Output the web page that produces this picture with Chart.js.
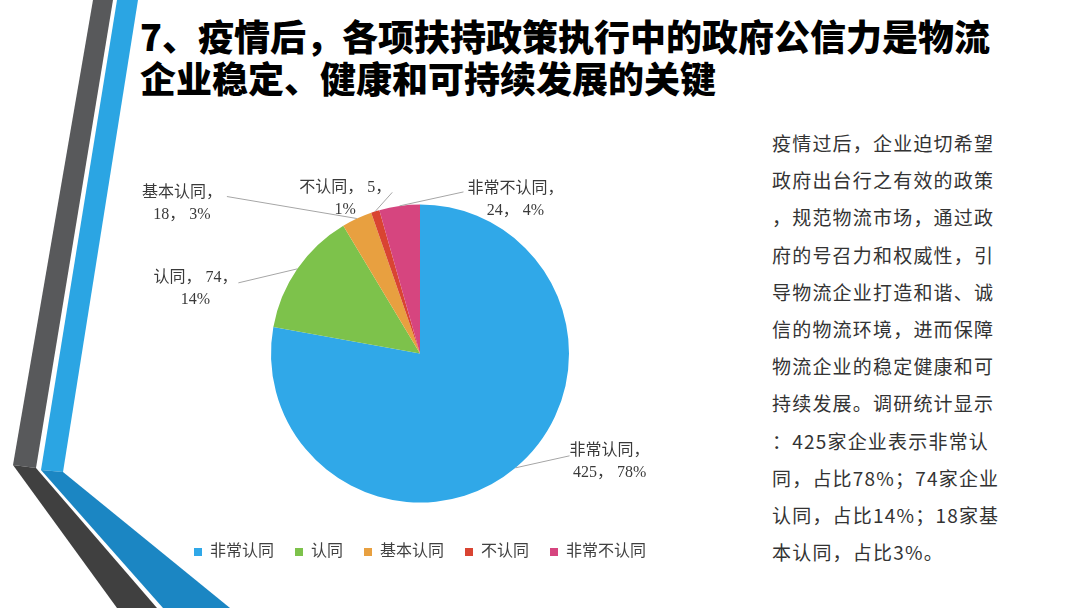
<!DOCTYPE html>
<html lang="zh-CN">
<head>
<meta charset="utf-8">
<script src="https://cdn.jsdelivr.net/npm/chart.js@4.4.1/dist/chart.umd.min.js"></script>
<style>
  html, body { margin: 0; padding: 0; }
  body { width: 1080px; height: 608px; position: relative; overflow: hidden; background: #fff; font-family: "Noto Sans CJK SC", sans-serif; }
  #deco { position: absolute; left: 0; top: 0; }
  .title { position: absolute; left: 140px; font-size: 36px; font-weight: 900; color: #000; line-height: 42px; white-space: nowrap; }
  #chart-box { position: absolute; left: 130px; top: 130px; width: 580px; height: 440px; }
  #note { position: absolute; left: 772px; top: 124px; font-size: 19px; line-height: 37.2px; color: #333; letter-spacing: 1.2px; white-space: nowrap; }
</style>
</head>
<body>
<svg id="deco" width="1080" height="608">
  <polygon points="93,0 113,0 36,468 13,465" fill="#58595b"/>
  <polygon points="117,0 138,0 63,472 41,470" fill="#2ba5e3"/>
  <polygon points="13,465 36,468 157,608 117,608" fill="#404040"/>
  <polygon points="41,470 63,472 230,608 163,608" fill="#1b86c3"/>
</svg>

<div class="title" style="top:14px;">7、疫情后，各项扶持政策执行中的政府公信力是物流</div>
<div class="title" style="top:56px;">企业稳定、健康和可持续发展的关键</div>

<div id="chart-box"><canvas id="pie" width="580" height="440"></canvas></div>

<div id="note"></div>

<script>
const categories = ['非常认同', '认同', '基本认同', '不认同', '非常不认同'];
const counts = [425, 74, 18, 5, 24];
const colors = ['#30a8e8', '#7dc24b', '#e8a040', '#d94432', '#d6457f'];

const noteLines = [
  '疫情过后，企业迫切希望',
  '政府出台行之有效的政策',
  '，规范物流市场，通过政',
  '府的号召力和权威性，引',
  '导物流企业打造和谐、诚',
  '信的物流环境，进而保障',
  '物流企业的稳定健康和可',
  '持续发展。调研统计显示',
  '：425家企业表示非常认',
  '同，占比78%；74家企业',
  '认同，占比14%；18家基',
  '本认同，占比3%。'
];

document.getElementById('note').innerHTML = noteLines.map(l => `<div>${l}</div>`).join('');

const total = counts.reduce((a, b) => a + b, 0);

// where each label sits relative to its slice edge, and where its leader line ends
const labelStyle = [
  { dx: 94, dy: -6, lx: 54, ly: -12, breakAfter: 'name' },
  { dx: -102, dy: 20, lx: -59, ly: 14, breakAfter: 'count' },
  { dx: -175, dy: -15, lx: -130, ly: -22, breakAfter: 'name' },
  { dx: -30, dy: -13, lx: 17, ly: -19, breakAfter: 'count' },
  { dx: 116, dy: -6, lx: 64, ly: -14, breakAfter: 'name' }
];

const sliceLabels = {
  id: 'sliceLabels',
  afterDatasetsDraw(chart) {
    const ctx = chart.ctx;
    const meta = chart.getDatasetMeta(0);
    ctx.save();
    ctx.font = '16px "Liberation Serif", "Noto Sans CJK SC"';
    ctx.fillStyle = '#3a3a3a';
    ctx.textAlign = 'center';
    ctx.textBaseline = 'middle';
    meta.data.forEach((arc, i) => {
      const p = arc.getProps(['x', 'y', 'startAngle', 'endAngle', 'outerRadius'], true);
      const mid = (p.startAngle + p.endAngle) / 2;
      const ex = p.x + Math.cos(mid) * p.outerRadius;
      const ey = p.y + Math.sin(mid) * p.outerRadius;
      const s = labelStyle[i];

      ctx.strokeStyle = '#a6a6a6';
      ctx.lineWidth = 1;
      ctx.beginPath();
      ctx.moveTo(ex, ey);
      ctx.lineTo(ex + s.lx, ey + s.ly);
      ctx.stroke();

      const pct = Math.round(counts[i] / total * 100) + '%';
      let l1, l2;
      if (s.breakAfter === 'name') {
        l1 = categories[i] + '，';
        l2 = counts[i] + '， ' + pct;
      } else {
        l1 = categories[i] + '， ' + counts[i] + '，';
        l2 = pct;
      }
      const cx = ex + s.dx, cy = ey + s.dy;
      ctx.fillText(l1, cx, cy - 11);
      ctx.fillText(l2, cx, cy + 11);
    });
    ctx.restore();
  }
};

new Chart(document.getElementById('pie').getContext('2d'), {
  type: 'pie',
  data: {
    labels: categories,
    datasets: [{
      data: counts,
      backgroundColor: colors,
      borderWidth: 0
    }]
  },
  options: {
    responsive: false,
    animation: false,
    devicePixelRatio: 1,
    radius: 149,
    layout: { padding: { top: 54, bottom: 0, left: 0, right: 0 } },
    plugins: {
      legend: {
        position: 'bottom',
        labels: {
          boxWidth: 8,
          boxHeight: 8,
          padding: 21,
          color: '#404040',
          font: { size: 16, family: '"Liberation Serif", "Noto Sans CJK SC"' }
        }
      },
      tooltip: { enabled: false }
    }
  },
  plugins: [sliceLabels]
});
</script>
</body>
</html>
